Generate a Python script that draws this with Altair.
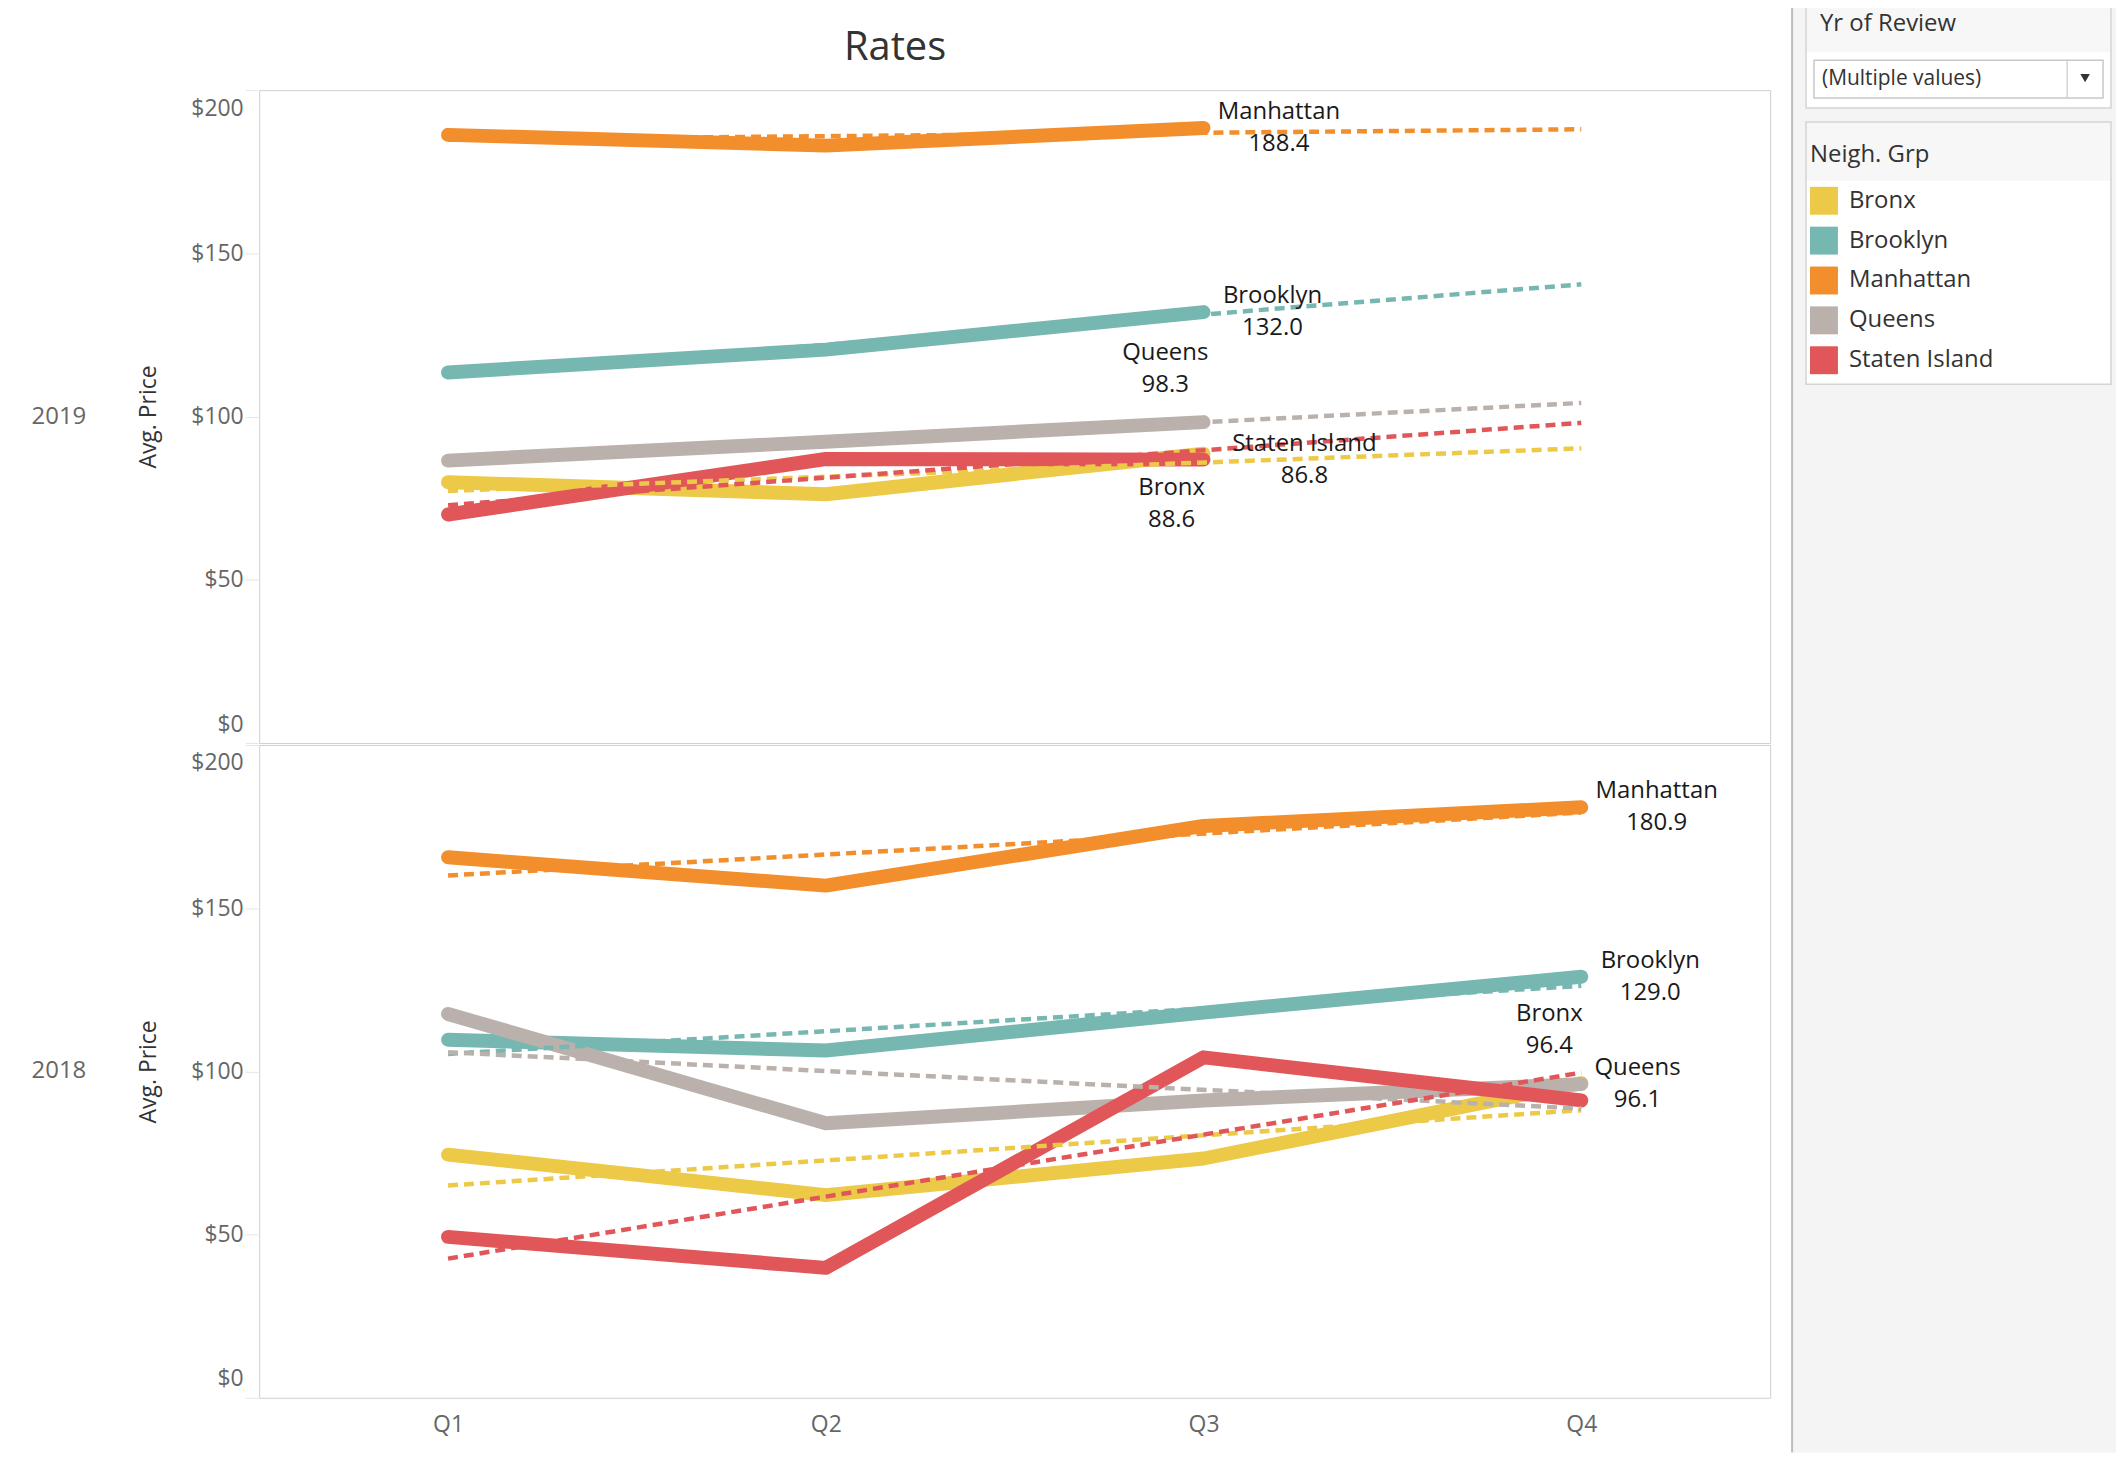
import altair as alt
import pandas as pd

FONT = "Open Sans"

# ---------------- data ----------------
quarters = ["Q1", "Q2", "Q3", "Q4"]
neighborhoods = ["Bronx", "Brooklyn", "Manhattan", "Queens", "Staten Island"]
colors = ["#EDC948", "#76B7B2", "#F28E2B", "#BAB0AC", "#E15759"]
years = ["2019", "2018"]

# 2019 (Q1-Q3 only)
bronx_2019 = [79.9, 76.2, 88.6]
brooklyn_2019 = [113.5, 120.5, 132.0]
manhattan_2019 = [186.3, 183.0, 188.4]
queens_2019 = [86.5, 92.3, 98.3]
staten_2019 = [70.0, 87.0, 86.8]

# 2018 (Q1-Q4)
bronx_2018 = [74.5, 62.1, 73.3, 96.4]
brooklyn_2018 = [109.7, 106.4, 118.0, 129.0]
manhattan_2018 = [165.6, 156.9, 175.2, 180.9]
queens_2018 = [117.6, 84.1, 91.1, 96.1]
staten_2018 = [49.3, 39.8, 104.3, 91.1]

series = {
    ("2019", "Bronx"): bronx_2019,
    ("2019", "Brooklyn"): brooklyn_2019,
    ("2019", "Manhattan"): manhattan_2019,
    ("2019", "Queens"): queens_2019,
    ("2019", "Staten Island"): staten_2019,
    ("2018", "Bronx"): bronx_2018,
    ("2018", "Brooklyn"): brooklyn_2018,
    ("2018", "Manhattan"): manhattan_2018,
    ("2018", "Queens"): queens_2018,
    ("2018", "Staten Island"): staten_2018,
}

# where the end-of-line label sits (Staten Island 2018 has none)
label_place = {
    ("2019", "Manhattan"): "right",
    ("2019", "Brooklyn"): "right",
    ("2019", "Queens"): "above",
    ("2019", "Staten Island"): "right",
    ("2019", "Bronx"): "below",
    ("2018", "Manhattan"): "right",
    ("2018", "Brooklyn"): "right",
    ("2018", "Bronx"): "above",
    ("2018", "Queens"): "right",
}

rows = []
for (yr, nb), vals in series.items():
    for i, v in enumerate(vals):
        last = i == len(vals) - 1
        rows.append({
            "year": yr, "nbhd": nb, "q": i + 1, "quarter": quarters[i],
            "price": v,
            "place": label_place.get((yr, nb), "none") if last else "none",
        })
df = pd.DataFrame(rows)

# ---------------- main chart ----------------
W, H = 1516, 655
PX_PER_Q = W / 4.0
GRID = "#d0d0d0"

xscale = alt.Scale(domain=[0.5, 4.5], nice=False, zero=False)
xaxis = alt.Axis(values=[1, 2, 3, 4], labelExpr="'Q' + datum.value", grid=False,
                 ticks=False, domain=False, labelPadding=15, labelFontSize=23,
                 labelColor="#666666", title=None)
yenc = alt.Y("price:Q", scale=alt.Scale(domain=[0, 200], nice=False),
             axis=alt.Axis(values=[0, 50, 100, 150, 200], format="$,.0f",
                           labelFlush=True, labelFlushOffset=-7, grid=False,
                           domain=False, tickColor="#e6e6e6", tickSize=13,
                           labelPadding=2, labelFontSize=23, labelColor="#666666",
                           title="Avg. Price", titleFontSize=23,
                           titleFontWeight="normal", titleColor="#333333",
                           titlePadding=30))

color = alt.Color(
    "nbhd:N",
    scale=alt.Scale(domain=neighborhoods, range=colors),
    legend=alt.Legend(
        title="Neigh. Grp", orient="none", legendX=1556, legendY=53,
        symbolType="square", symbolSize=784, symbolStrokeWidth=0,
        symbolOpacity=1,
        labelFontSize=24, titleFontSize=24, titleFontWeight="normal",
        titleColor="#333333", labelColor="#333333", labelFont=FONT,
        titleFont=FONT, rowPadding=12, labelOffset=11, titlePadding=20,
        labelLimit=300, padding=0,
    ),
)

base = alt.Chart(df)

# zero-size squares: only give the colour legend its filled square swatches
swatch = base.mark_square(size=0).encode(
    x=alt.X("q:Q", scale=xscale, axis=xaxis),
    y=yenc,
    color=color,
)

lines = base.mark_line(strokeWidth=14, strokeCap="round", strokeJoin="round").encode(
    x=alt.X("q:Q", scale=xscale, axis=xaxis),
    y=yenc,
    color=color,
)

trend = base.transform_regression(
    "q", "price", groupby=["year", "nbhd"], extent=[1, 4]
).mark_line(strokeWidth=4.5, strokeDash=[10, 6]).encode(
    x=alt.X("q:Q", scale=xscale, axis=xaxis),
    y=yenc,
    color=color,
)

CHAR_W = 6.4  # half of an average glyph width at the label size


def label_layer(place, dy, shift):
    return base.transform_filter(
        f"datum.place == '{place}'"
    ).transform_calculate(
        lx=shift,
        lab="datum.nbhd + '\\n' + format(datum.price, '.1f')",
    ).mark_text(
        align="center", baseline="middle", dy=dy, fontSize=24, font=FONT,
        color="#1a1a1a", lineBreak="\n", lineHeight=32,
    ).encode(
        x=alt.X("lx:Q", scale=xscale, axis=xaxis),
        y=yenc,
        text="lab:N",
    )


lab_right = label_layer("right", -16, f"datum.q + (18 + {CHAR_W} * length(datum.nbhd)) / {PX_PER_Q}")
lab_above = label_layer("above", -69, f"datum.q - ({CHAR_W} * length(datum.nbhd)) / {PX_PER_Q}")
lab_below = label_layer("below", 34, f"datum.q - ({CHAR_W} * length(datum.nbhd)) / {PX_PER_Q}")

layered = alt.layer(swatch, lines, trend, lab_right, lab_above, lab_below).properties(width=W, height=H)

main = layered.facet(
    row=alt.Row("year:N", sort="descending", title=None,
                header=alt.Header(labelAngle=0, labelOrient="left", labelAlign="right",
                                  labelFontSize=24, labelColor="#666666",
                                  labelFont=FONT, labelPadding=-3,
                                  labelBaseline="middle")),
    spacing=0,
).properties(
    title=alt.TitleParams(text="Rates", fontSize=40, font=FONT,
                          fontWeight="normal", color="#333333", anchor="middle",
                          frame="group", baseline="alphabetic", offset=-10, dx=638),
)

# ---------------- sidebar (filter card + legend card) ----------------
# local coordinates: origin at the top-left of the sidebar, level with the plot top
SB_W, SB_H = 325, 1310
TOP = -83
BOTTOM = 1367
dummy = alt.Data(values=[{"k": 1}])
sb = alt.Chart(dummy)


def box(x, x2, y, y2, fill, stroke="transparent"):
    return sb.mark_rect(fill=fill, stroke=stroke, strokeWidth=1.5).encode(
        x=alt.value(x), x2=alt.value(x2), y=alt.value(y), y2=alt.value(y2))


def label(x, y, txt, size, col="#333333"):
    return sb.mark_text(align="left", baseline="middle", fontSize=size, font=FONT,
                        color=col).encode(x=alt.value(x), y=alt.value(y),
                                          text=alt.value(txt))


def vline(x, y, y2, col=GRID, w=1.5):
    return sb.mark_rule(color=col, strokeWidth=w).encode(
        x=alt.value(x), y=alt.value(y), y2=alt.value(y2))


sidebar = alt.layer(
    box(0, SB_W, TOP, BOTTOM, "#f4f4f4"),
    vline(0, TOP, BOTTOM, "#bdbdbd", 2),
    box(14, 320, TOP, 18, "#ffffff", "#d4d4d4"),
    box(15, 319, TOP, -38, "#f7f7f7"),
    box(22, 312, -30, 8, "#ffffff", "#c8c8c8"),
    vline(276, -29, 7, "#d4d4d4"),
    sb.mark_point(shape="triangle-down", filled=True, size=90, color="#333333",
                  opacity=1).encode(x=alt.value(294), y=alt.value(-12)),
    label(28, -66, "Yr of Review", 24),
    label(30, -11, "(Multiple values)", 21),
    box(14, 320, 32, 295, "#ffffff", "#d4d4d4"),
    box(15, 319, 33, 91, "#f7f7f7"),
).properties(width=SB_W, height=SB_H,
             view=alt.ViewBackground(fill="transparent", stroke="transparent"))

chart = alt.hconcat(main, sidebar, spacing=19).properties(
    padding={"left": 23, "top": -5, "right": 0, "bottom": 0},
).configure_view(stroke=GRID).configure_axis(
    labelFont=FONT, titleFont=FONT
).configure_title(font=FONT).configure_text(font=FONT)

chart.save("out.html", embed_options={"renderer": "svg", "actions": False})
